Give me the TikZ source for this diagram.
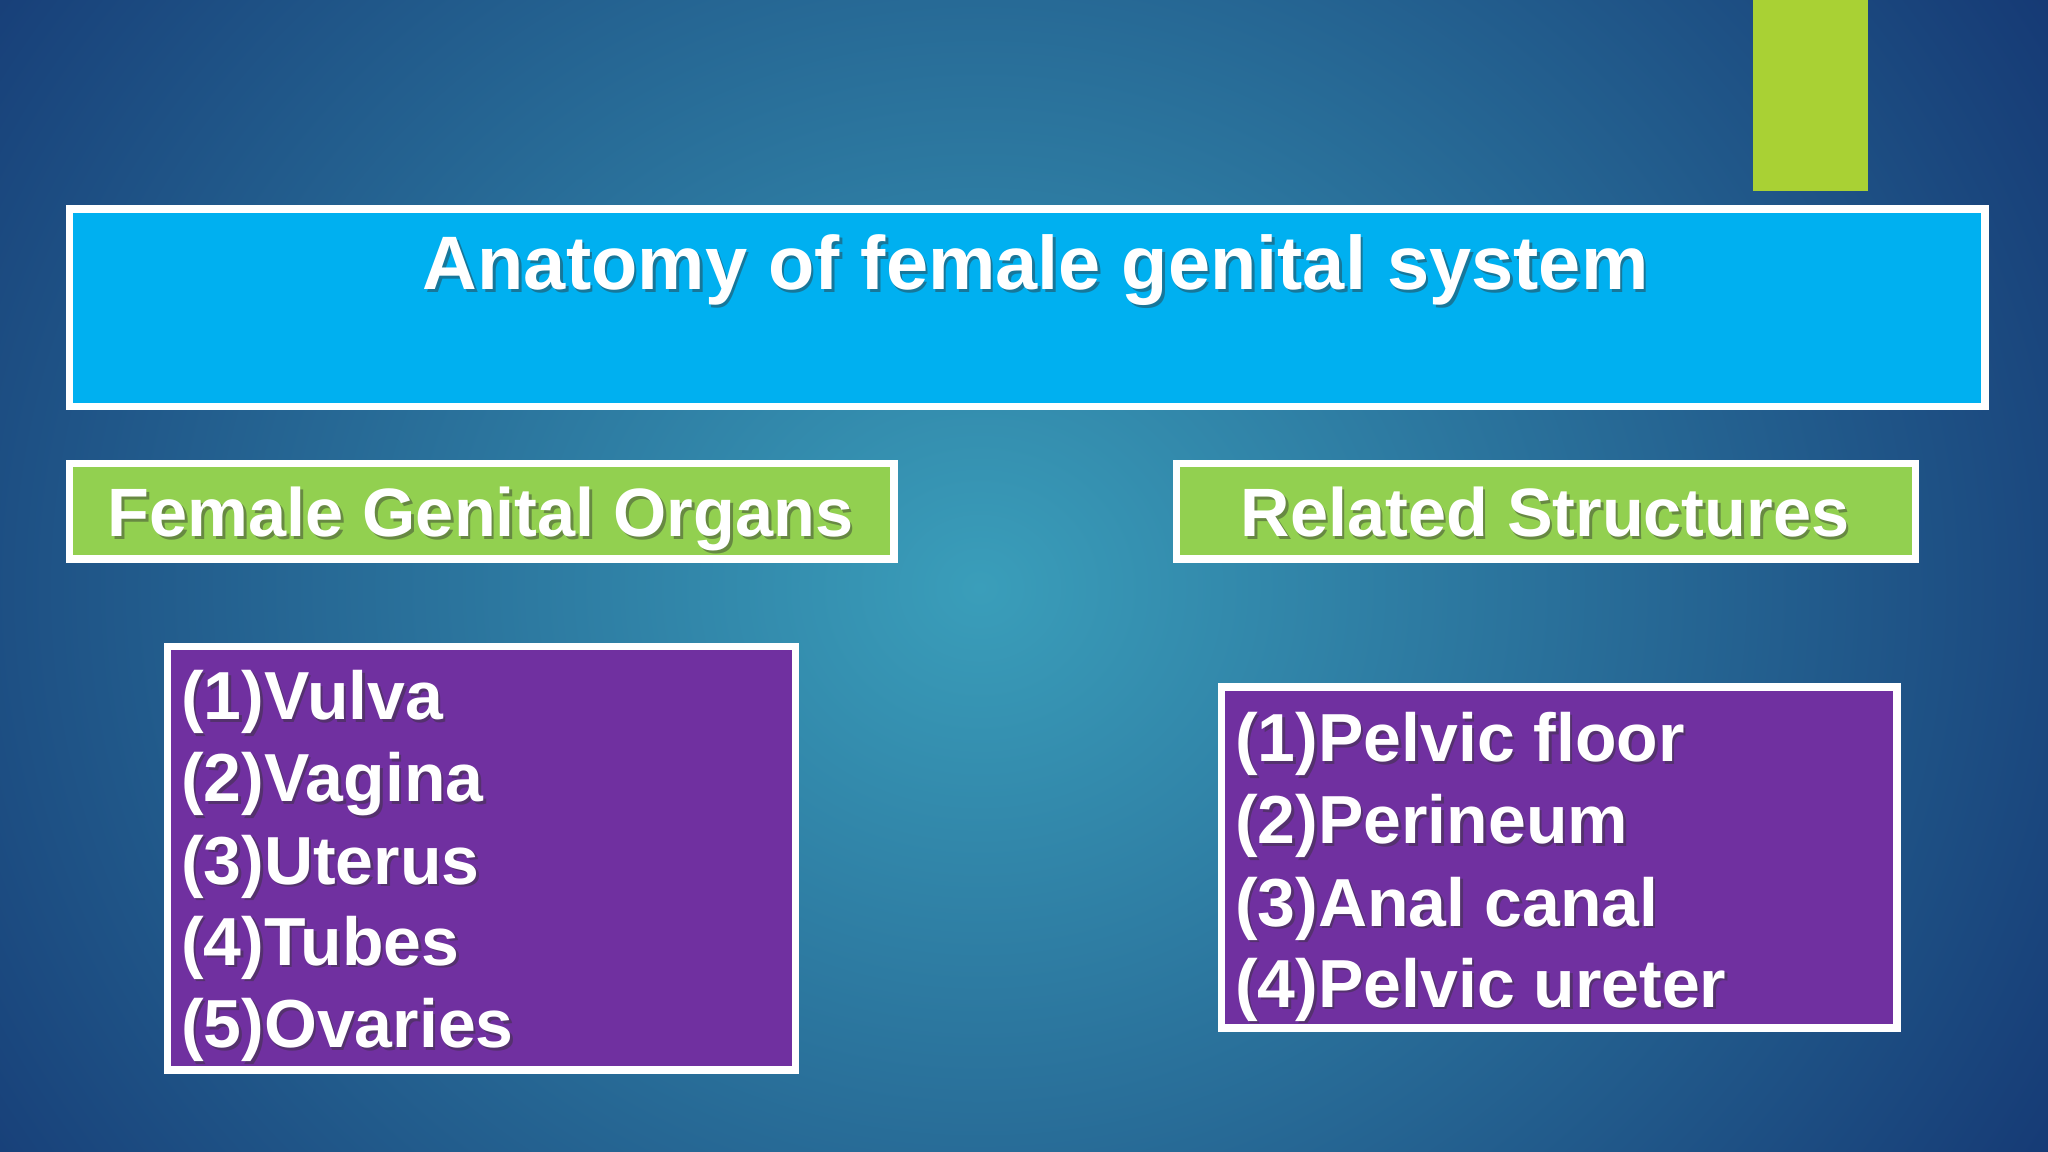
\documentclass[tikz,border=0pt]{standalone}
\usepackage{fontspec}
\setmainfont{Liberation Sans}
\usetikzlibrary{calc}
\begin{document}
\begin{tikzpicture}[x=0.01cm,y=-0.01cm,
  box/.style={draw=white,line width=1.6pt,inner sep=0pt,outer sep=0pt,anchor=north west},
  txt/.style={text=white,inner sep=0pt},
  shd/.style={text=black!80,opacity=0.45,inner sep=0pt}]
\definecolor{bgout}{HTML}{12306E}
\definecolor{bgin}{HTML}{3A9EBA}
\definecolor{titleblue}{HTML}{00B0F0}
\definecolor{grn}{HTML}{92D050}
\definecolor{grn2}{HTML}{A9D134}
\definecolor{purp}{HTML}{7030A0}
\useasboundingbox (0,0) rectangle (1568,882);
\fill[bgout] (0,0) rectangle (1568,882);
\shade[inner color=bgin,outer color=bgout] (-300,-500) rectangle (1800,1400);
\fill[grn2] (1342,0) rectangle (1430,146);
\newcommand{\stxt}[4]{%
 \node[shd,anchor=#1,font=\fontsize{#2}{#2}\selectfont\bfseries] at ($(#3)+(2,2)$) {#4};
 \node[txt,anchor=#1,font=\fontsize{#2}{#2}\selectfont\bfseries] at (#3) {#4};}
\node[box,fill=titleblue,minimum width=14.66cm,minimum height=1.51cm] (title) at (53,160) {};
\node[box,fill=grn,minimum width=6.31cm,minimum height=0.73cm] (org) at (53,355) {};
\node[box,fill=grn,minimum width=5.65cm,minimum height=0.73cm] (rel) at (901,355) {};
\node[box,fill=purp,minimum width=4.81cm,minimum height=3.24cm] (lst1) at (128,495) {};
\node[box,fill=purp,minimum width=5.17cm,minimum height=2.61cm] (lst2) at (935,526) {};
\stxt{base}{16.5pt}{793,222}{Anatomy of female genital system}
\stxt{base}{14.9pt}{368,411}{Female Genital Organs}
\stxt{base}{14.9pt}{1183,411}{Related Structures}
\stxt{base west}{14.8pt}{138,551}{(1)Vulva}
\stxt{base west}{14.8pt}{138,614}{(2)Vagina}
\stxt{base west}{14.8pt}{138,677}{(3)Uterus}
\stxt{base west}{14.8pt}{138,739}{(4)Tubes}
\stxt{base west}{14.8pt}{138,802}{(5)Ovaries}
\stxt{base west}{14.8pt}{945,583}{(1)Pelvic floor}
\stxt{base west}{14.8pt}{945,646}{(2)Perineum}
\stxt{base west}{14.8pt}{945,709}{(3)Anal canal}
\stxt{base west}{14.8pt}{945,771}{(4)Pelvic ureter}
\end{tikzpicture}
\end{document}
